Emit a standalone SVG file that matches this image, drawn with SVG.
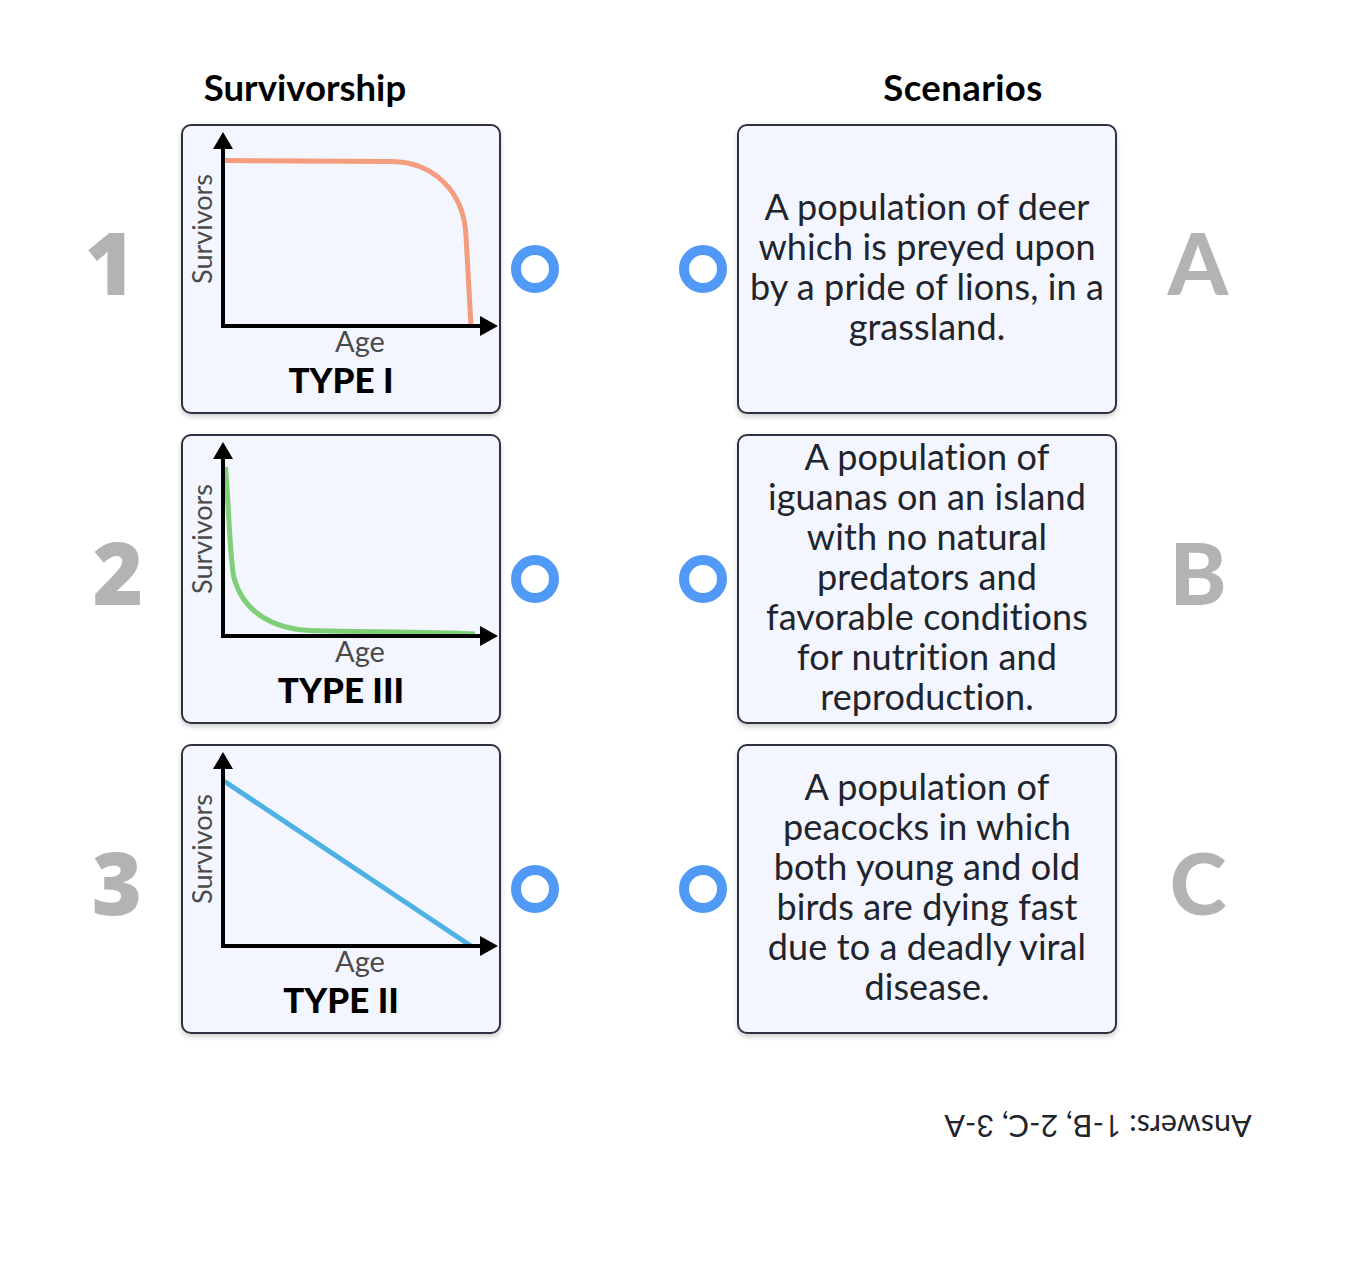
<svg xmlns="http://www.w3.org/2000/svg" width="1358" height="1264" viewBox="0 0 1358 1264">
<style>
text{font-family:"Lato","Open Sans","Liberation Sans",sans-serif;font-variant-ligatures:none}
.card{fill:#f3f6fe;stroke:#2d3340;stroke-width:2;filter:url(#sh)}
.h{font-size:36.500px;font-weight:700;fill:#000;text-anchor:middle}
.t{font-size:36px;letter-spacing:.1px;fill:#21242c;text-anchor:middle}
.ty{font-size:35px;font-weight:900;fill:#000;text-anchor:middle}
.ax{font-size:27px;fill:#4a4a4a;text-anchor:middle}
.age{font-size:29px;fill:#4a4a4a;text-anchor:middle}
.big{font-size:86px;font-weight:900;fill:#b3b3b3;text-anchor:middle}
.num{font-family:"Open Sans","Liberation Sans",sans-serif;font-size:86px;font-weight:800;fill:#b3b3b3;text-anchor:middle}
.axis{fill:none;stroke:#000;stroke-width:4}
.tip{fill:#000}
.dot{fill:none;stroke:#5199f7;stroke-width:10}
.curve{fill:none;stroke-width:5}
</style>
<defs><filter id="sh" x="-5%" y="-5%" width="110%" height="112%"><feDropShadow dx="0" dy="3" stdDeviation="2.500" flood-color="#000" flood-opacity=".18"/></filter></defs>
<rect width="1358" height="1264" fill="#fff"/>
<text class="h" x="305" y="101">Survivorship</text>
<text class="h" x="963" y="101" letter-spacing=".4">Scenarios</text>
<g id="row1-left">
<text class="num" x="110" y="295">1</text>
<rect class="card" x="182" y="125" width="318" height="288" rx="9"/>
<path class="curve" stroke="#f39c7e" d="M224 160.500C290 161 350 161.500 392 161.500C432 162 464 190 466 236L471 326"/>
<path class="axis" d="M223 145V326H484"/><path class="tip" d="M213 149L223 132L233 149ZM480 316L498 326L480 336Z"/>
<text class="ax" transform="translate(212 229) rotate(-90)">Survivors</text>
<text class="age" x="360" y="352">Age</text>
<text class="ty" x="341" y="393">TYPE I</text>
<circle class="dot" cx="535" cy="269" r="19"/>
</g>
<g id="row2-left">
<text class="num" x="118" y="605">2</text>
<rect class="card" x="182" y="435" width="318" height="288" rx="9"/>
<path class="curve" stroke="#7fcf79" d="M225.500 467C229 510 230 560 234 578C244 614 275 629 310 630.500C370 632 430 632 475 634"/>
<path class="axis" d="M223 455V636H484"/><path class="tip" d="M213 459L223 442L233 459ZM480 626L498 636L480 646Z"/>
<text class="ax" transform="translate(212 539) rotate(-90)">Survivors</text>
<text class="age" x="360" y="662">Age</text>
<text class="ty" x="341" y="703">TYPE III</text>
<circle class="dot" cx="535" cy="579" r="19"/>
</g>
<g id="row3-left">
<text class="num" x="117" y="915">3</text>
<rect class="card" x="182" y="745" width="318" height="288" rx="9"/>
<path class="curve" stroke="#4fb0e5" d="M224 781L471 946"/>
<path class="axis" d="M223 765V946H484"/><path class="tip" d="M213 769L223 752L233 769ZM480 936L498 946L480 956Z"/>
<text class="ax" transform="translate(212 849) rotate(-90)">Survivors</text>
<text class="age" x="360" y="972">Age</text>
<text class="ty" x="341" y="1013">TYPE II</text>
<circle class="dot" cx="535" cy="889" r="19"/>
</g>
<g id="row1-right">
<circle class="dot" cx="703" cy="269" r="19"/>
<rect class="card" x="738" y="125" width="378" height="288" rx="9"/>
<text class="t" x="927" y="220">A population of deer</text>
<text class="t" x="927" y="260">which is preyed upon</text>
<text class="t" x="927" y="300">by a pride of lions, in a</text>
<text class="t" x="927" y="340">grassland.</text>
<text class="big" x="1198" y="295">A</text>
</g>
<g id="row2-right">
<circle class="dot" cx="703" cy="579" r="19"/>
<rect class="card" x="738" y="435" width="378" height="288" rx="9"/>
<text class="t" x="927" y="470">A population of</text>
<text class="t" x="927" y="510">iguanas on an island</text>
<text class="t" x="927" y="550">with no natural</text>
<text class="t" x="927" y="590">predators and</text>
<text class="t" x="927" y="630">favorable conditions</text>
<text class="t" x="927" y="670">for nutrition and</text>
<text class="t" x="927" y="710">reproduction.</text>
<text class="big" x="1198" y="605">B</text>
</g>
<g id="row3-right">
<circle class="dot" cx="703" cy="889" r="19"/>
<rect class="card" x="738" y="745" width="378" height="288" rx="9"/>
<text class="t" x="927" y="800">A population of</text>
<text class="t" x="927" y="840">peacocks in which</text>
<text class="t" x="927" y="880">both young and old</text>
<text class="t" x="927" y="920">birds are dying fast</text>
<text class="t" x="927" y="960">due to a deadly viral</text>
<text class="t" x="927" y="1000">disease.</text>
<text class="big" x="1198" y="915">C</text>
</g>
<text transform="translate(1098 1115) rotate(180)" font-size="30.500" fill="#21242c" text-anchor="middle">Answers: <tspan font-family="Open Sans">1</tspan>-B, 2-C, 3-A</text>
</svg>
